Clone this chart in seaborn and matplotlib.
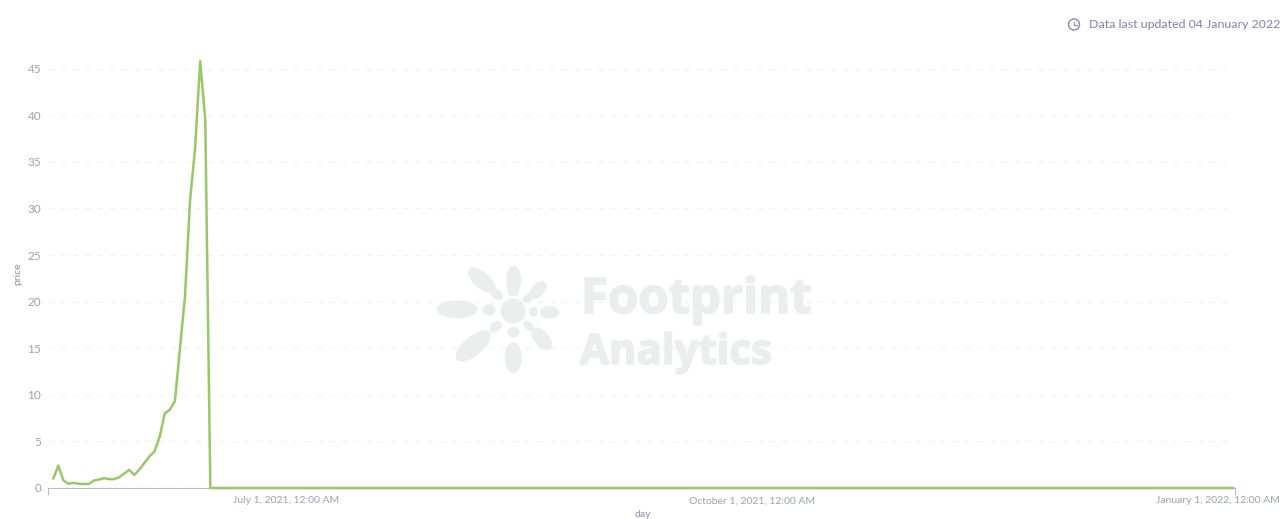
import matplotlib
matplotlib.use("Agg")
import matplotlib.pyplot as plt
import matplotlib.dates as mdates
import matplotlib.patheffects as pe
from matplotlib.patches import Ellipse, Circle
import pandas as pd
import seaborn as sns

START_DAY = "2021-05-16"
END_DAY = "2022-01-04"
RISE_VALUES = [1.0, 2.4, 0.8, 0.45, 0.55, 0.45, 0.43, 0.43, 0.8, 0.9, 1.05, 0.95,
               0.95, 1.15, 1.55, 1.95, 1.4, 2.0, 2.7, 3.4, 3.95, 5.5, 8.0, 8.4,
               9.3, 15.0, 20.6, 30.9, 36.5, 45.8, 39.5]
TICK_DAYS = ["2021-07-01", "2021-10-01", "2022-01-01"]
TICK_LABELS = ["July 1, 2021, 12:00 AM", "October 1, 2021, 12:00 AM", "January 1, 2022, 12:00 AM"]
Y_TICKS = [0, 5, 10, 15, 20, 25, 30, 35, 40, 45]

days = pd.date_range(START_DAY, END_DAY, freq="D")
prices = RISE_VALUES + [0.0] * (len(days) - len(RISE_VALUES))
df = pd.DataFrame({"day": days, "price": prices})

W, H = 1283, 519
sns.set_theme(style="white")
plt.rcParams["font.family"] = ["Lato", "DejaVu Sans"]
fig = plt.figure(figsize=(W / 100, H / 100), dpi=100, facecolor="white")

# watermark / annotation layer in pixel coordinates
bg = fig.add_axes([0, 0, 1, 1], zorder=0)
bg.set_xlim(0, W)
bg.set_ylim(H, 0)
bg.axis("off")
WM = "#ebedef"
petals = [(513.3, 311, 25, 25, 0), (513.7, 280, 15, 29, 0), (481.7, 280.3, 34, 16, 40),
          (457.3, 309.3, 41, 18, 0), (549.3, 312.3, 19, 13, 0), (538, 290, 21, 13, -45),
          (541.7, 338.7, 27, 15, 50), (513.3, 357.7, 17, 31, 0), (473.3, 346, 43, 19, -40),
          (489, 310, 13, 12, 0), (496.7, 294.3, 14, 10, 40), (513.3, 291.7, 12, 9, 0),
          (527.7, 298.3, 11, 8, -45), (533.3, 311.7, 9, 10, 0), (528.3, 325.7, 12, 8, 45),
          (513.7, 332.3, 12, 11, 0), (495.7, 326.7, 14, 10, -40)]
for cx, cy, w, h, a in petals:
    bg.add_patch(Ellipse((cx, cy), w, h, angle=a, fc=WM, ec="none"))
thick = [pe.withStroke(linewidth=1.2, foreground=WM)]
bg.text(581, 313, "Footprint", fontsize=35.3, fontweight="bold", family="Open Sans",
        color=WM, ha="left", va="baseline", path_effects=thick)
bg.text(580, 364, "Analytics", fontsize=30.2, fontweight="bold", family="Open Sans",
        color=WM, ha="left", va="baseline", path_effects=thick)

# clock icon + update note
ICON = "#8b8ba5"
bg.add_patch(Circle((1074, 24.5), 5.5, fc="none", ec=ICON, lw=1))
bg.plot([1074, 1074, 1077], [21.5, 25, 25], color=ICON, lw=0.8)
bg.text(1280, 24, "Data last updated 04 January 2022", fontsize=8.9, color="#7f83a6",
        ha="right", va="center")

# main chart
TOP, BOTTOM, LEFT, RIGHT = 50, 488, 48, 1235
ax = fig.add_axes([LEFT / W, 1 - BOTTOM / H, (RIGHT - LEFT) / W, (BOTTOM - TOP) / H], zorder=1)
ax.patch.set_alpha(0)
sns.lineplot(data=df, x="day", y="price", ax=ax, color="#97c966", linewidth=1.8,
             errorbar=None, clip_on=False, solid_joinstyle="round", zorder=3)

ax.set_ylim(0, (BOTTOM - TOP) / 9.32)
ax.set_xlim(mdates.date2num(pd.Timestamp(START_DAY)) - 1.05,
            mdates.date2num(pd.Timestamp(END_DAY)) + 0.3)
ax.set_yticks(Y_TICKS)
ax.set_xticks(pd.to_datetime(TICK_DAYS))
ax.set_xticklabels(TICK_LABELS)
ax.set_xticks(list(ax.get_xlim()), minor=True)
TICK_C = "#9da1b3"
ax.tick_params(axis="x", which="major", length=0, pad=6, labelsize=7.5, labelcolor=TICK_C)
ax.tick_params(axis="x", which="minor", length=5, width=0.8, color="#b9bac6", bottom=True)
ax.tick_params(axis="y", length=0, pad=5, labelsize=8.5, labelcolor=TICK_C, left=False)
ax.yaxis.grid(True, color="#f0f1f2", lw=0.8, linestyle=(0, (5, 6)))
ax.xaxis.grid(False)
ax.set_axisbelow(True)
for s in ("top", "right", "left"):
    ax.spines[s].set_visible(False)
ax.spines["bottom"].set_color("#b9bac6")
ax.spines["bottom"].set_linewidth(0.8)

ax.set_ylabel("price", fontsize=7.5, color="#8d92a5")
ax.yaxis.set_label_coords((22 - LEFT) / (RIGHT - LEFT), (BOTTOM - 274) / (BOTTOM - TOP))
ax.set_xlabel("day", fontsize=7.5, color="#8d92a5", va="bottom")
ax.xaxis.set_label_coords((643 - LEFT) / (RIGHT - LEFT), (BOTTOM - 519) / (BOTTOM - TOP))

fig.savefig("out.png", dpi=100, facecolor="white")
